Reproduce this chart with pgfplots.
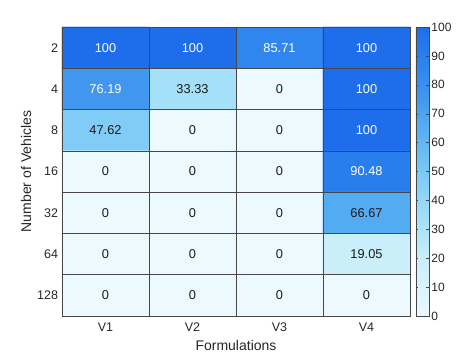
\documentclass[border=0pt]{standalone}
\usepackage{pgfplots}
\pgfplotsset{compat=1.18}
\usepackage{fontspec}
\setmainfont{Liberation Sans}
\pgfplotstableread{
x y v
0 0 100
1 0 100
2 0 85.71
3 0 100
0 1 76.19
1 1 33.33
2 1 0
3 1 100
0 2 47.62
1 2 0
2 2 0
3 2 100
0 3 0
1 3 0
2 3 0
3 3 90.48
0 4 0
1 4 0
2 4 0
3 4 66.67
0 5 0
1 5 0
2 5 0
3 5 19.05
0 6 0
1 6 0
2 6 0
3 6 0
}\heat
\begin{document}
\begin{tikzpicture}
\begin{axis}[
 name=main,
 scale only axis, width=348pt, height=289pt,
 xmin=-0.5, xmax=3.5, ymin=-0.5, ymax=6.5, y dir=reverse,
 enlargelimits=false,
 xtick={0,1,2,3}, xticklabels={V1,V2,V3,V4},
 ytick={0,...,6}, yticklabels={2,4,8,16,32,64,128},
 major tick length=0pt,
 minor xtick={0.5,1.5,2.5}, minor ytick={0.5,1.5,2.5,3.5,4.5,5.5},
 minor tick length=0pt,
 xminorgrids, yminorgrids,
 minor grid style={draw=black!72, line width=0.6pt},
 axis on top,
 axis line style={draw=black!72, line width=0.6pt},
 xlabel={Formulations}, ylabel={Number of Vehicles},
 xticklabel style={yshift=-3pt},
 yticklabel style={xshift=-0.5pt},
 xlabel style={yshift=-2pt},
 ylabel style={yshift=-1pt},
 label style={font=\fontsize{14}{16}\selectfont, text=black!85},
 tick label style={font=\fontsize{12.5}{14}\selectfont, text=black!85},
 /pgf/number format/assume math mode=true,
 colormap={heat}{rgb255(0)=(236,249,254) rgb255(20)=(200,238,251) rgb255(33)=(165,225,248) rgb255(48)=(128,203,246) rgb255(67)=(82,170,242) rgb255(76)=(65,150,240) rgb255(86)=(46,134,238) rgb255(100)=(30,110,235)},
 point meta min=0, point meta max=100,
 colorbar,
 colorbar style={
   at={(1.017,1)}, anchor=north west,
   width=13pt,
   ytick={0,10,...,100},
   major tick length=2.5pt,
   axis line style={draw=black!72},
   tick style={draw=black!72},
   tick label style={font=\fontsize{12}{14}\selectfont, text=black!85},
   yticklabel style={xshift=-1pt},
   /pgf/number format/assume math mode=true,
 },
 clip=false,
]
\addplot[matrix plot*, mesh/cols=4, point meta=explicit] table[x=x, y=y, meta=v] {\heat};
\addplot[only marks, mark=none, point meta=explicit symbolic, nodes near coords,
  nodes near coords align={center},
  every node near coord/.style={text=white, font=\fontsize{12.8}{14}\selectfont}]
  table[meta=l] {
x y l
0 0 100
1 0 100
2 0 85.71
3 0 100
0 1 76.19
3 1 100
3 2 100
3 3 90.48
};
\addplot[only marks, mark=none, point meta=explicit symbolic, nodes near coords,
  nodes near coords align={center},
  every node near coord/.style={text=black!90, font=\fontsize{12.8}{14}\selectfont}]
  table[meta=l] {
x y l
1 1 33.33
2 1 0
0 2 47.62
1 2 0
2 2 0
0 3 0
1 3 0
2 3 0
0 4 0
1 4 0
2 4 0
3 4 66.67
0 5 0
1 5 0
2 5 0
3 5 19.05
0 6 0
1 6 0
2 6 0
3 6 0
};
\coordinate (sw) at (axis description cs:0,0);
\coordinate (ne) at (axis description cs:1,1);
\end{axis}
\path ([shift={(-62pt,-39pt)}]sw) rectangle ([shift={(64pt,27pt)}]ne);
\end{tikzpicture}
\end{document}
